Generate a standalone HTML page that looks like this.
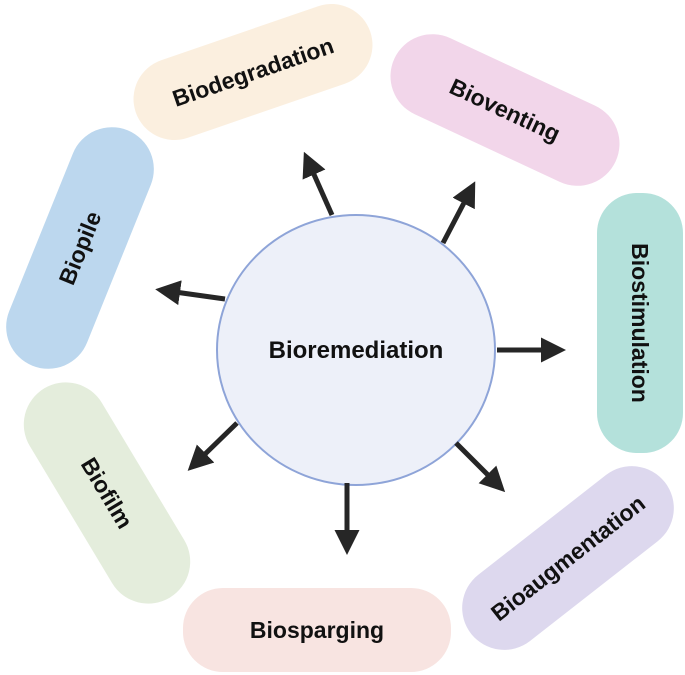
<!DOCTYPE html>
<html><head><meta charset="utf-8"><style>
html,body{margin:0;padding:0;background:#fff;}
svg{display:block}
text{font-family:"Liberation Sans",Arial,sans-serif;font-weight:bold;fill:#111;}
</style></head><body>
<svg width="685" height="675" viewBox="0 0 685 675" xmlns="http://www.w3.org/2000/svg">
<defs>
<marker id="ah" viewBox="0 0 10 10" refX="2" refY="5" markerWidth="5" markerHeight="5" orient="auto" markerUnits="strokeWidth">
<path d="M0,0 L10,5 L0,10 z" fill="#262626"/>
</marker>
</defs>
<g transform="translate(253,72) rotate(-19)"><rect x="-124" y="-41" width="248" height="82" rx="41" fill="#fbefdf"/><text x="0" y="8" font-size="23" text-anchor="middle">Biodegradation</text></g>
<g transform="translate(505,110) rotate(25)"><rect x="-122" y="-42" width="244" height="84" rx="42" fill="#f2d6ea"/><text x="0" y="8" font-size="23" text-anchor="middle">Bioventing</text></g>
<g transform="translate(640,323) rotate(90)"><rect x="-130" y="-43" width="260" height="86" rx="40" fill="#b4e1db"/><text x="0" y="8" font-size="23" text-anchor="middle">Biostimulation</text></g>
<g transform="translate(568,558) rotate(-38)"><rect x="-123" y="-42" width="246" height="84" rx="42" fill="#ddd8ee"/><text x="0" y="8" font-size="23" text-anchor="middle">Bioaugmentation</text></g>
<g transform="translate(317,630)"><rect x="-134" y="-42" width="268" height="84" rx="40" fill="#f8e4e1"/><text x="0" y="8" font-size="23" text-anchor="middle">Biosparging</text></g>
<g transform="translate(107,493) rotate(59)"><rect x="-122" y="-42" width="244" height="84" rx="42" fill="#e4eddc"/><text x="0" y="8" font-size="23" text-anchor="middle">Biofilm</text></g>
<g transform="translate(80,248) rotate(-68)"><rect x="-127" y="-42" width="254" height="84" rx="42" fill="#bcd7ee"/><text x="0" y="8" font-size="23" text-anchor="middle">Biopile</text></g>
<ellipse cx="356" cy="350" rx="139" ry="135" fill="#edf0f9" stroke="#8ea4d8" stroke-width="2"/>
<text x="356" y="358" font-size="24" text-anchor="middle">Bioremediation</text>
<g stroke="#262626" stroke-width="5" marker-end="url(#ah)">
<line x1="332" y1="215" x2="312" y2="170"/>
<line x1="443" y1="243" x2="466" y2="199"/>
<line x1="497" y1="350" x2="546" y2="350"/>
<line x1="456" y1="443" x2="491" y2="478"/>
<line x1="347" y1="483" x2="347" y2="535"/>
<line x1="237" y1="423" x2="202" y2="457"/>
<line x1="225" y1="299" x2="175" y2="292"/>
</g>
</svg>
</body></html>
